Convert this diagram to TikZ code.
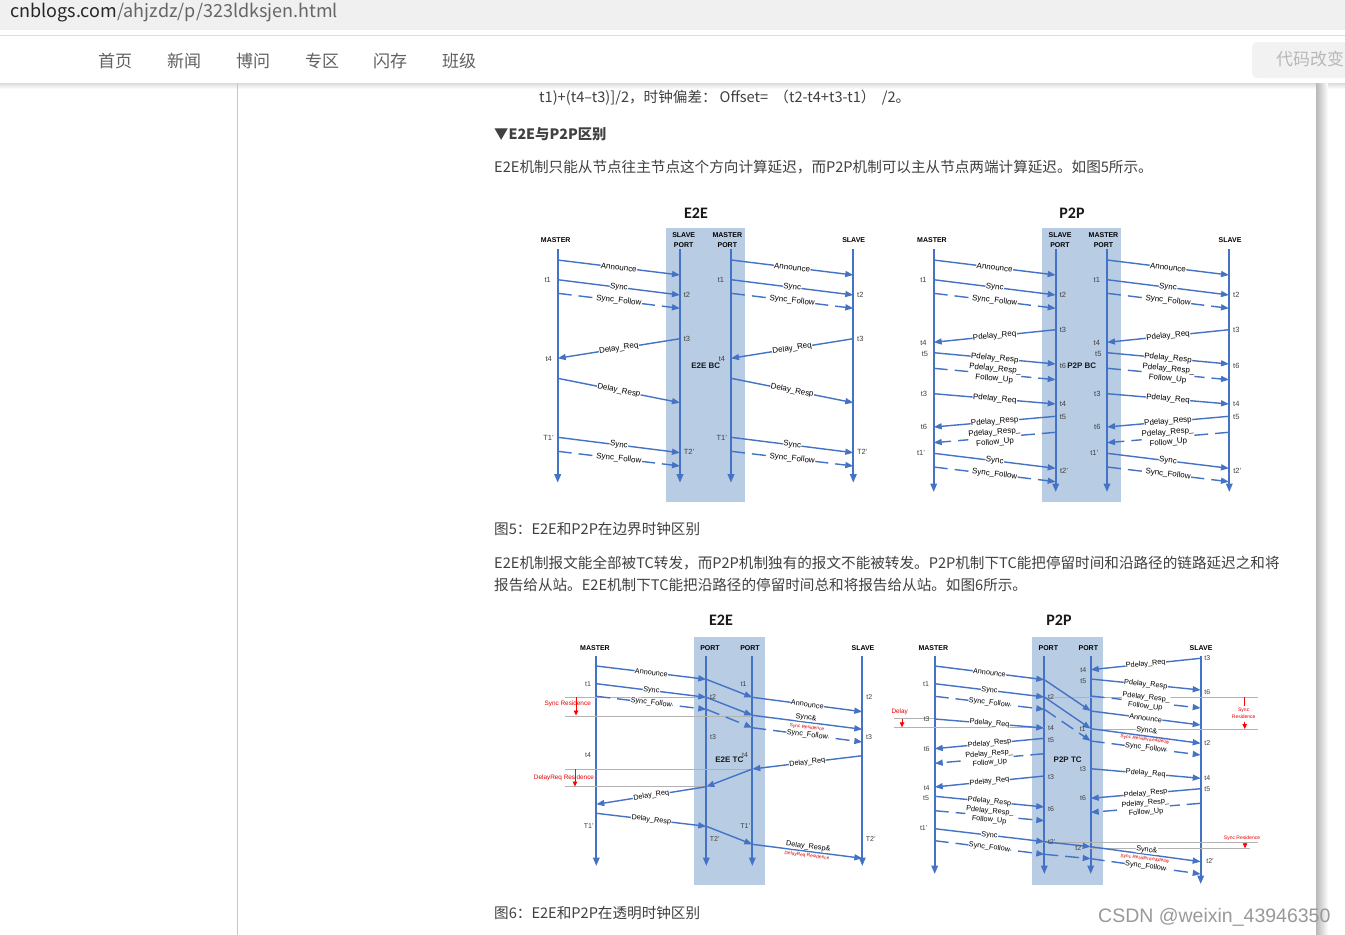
\documentclass[tikz,border=0pt]{standalone}
\usepackage{fontspec}
\setmainfont{Liberation Sans}
\newfontfamily\cjk{Noto Sans CJK SC}
\newfontfamily\titlefont{Carlito}
\usetikzlibrary{arrows.meta}
\definecolor{lineblue}{HTML}{4472C4}
\definecolor{boxblue}{HTML}{B8CCE4}
\definecolor{bodytext}{HTML}{404040}
\tikzset{
  life/.style={draw=lineblue, line width=1.8pt, -{Triangle[length=8.5pt,width=6.5pt]}},
  solidmsg/.style={draw=lineblue, line width=1.4pt, -{Triangle[length=8pt,width=6pt]}},
  dashmsg/.style={solidmsg, dash pattern=on 14pt off 7pt},
  msgtext/.style={sloped, fill=white, inner sep=0.4pt, align=center, text=black,
    font=\fontsize{8}{10}\selectfont},
  stamp/.style={text=black!75, inner sep=0pt, font=\fontsize{7.5}{9}\selectfont},
  head/.style={text=black, inner sep=0pt, align=center, font=\fontsize{7}{10}\selectfont\bfseries},
  figtitle/.style={text=black!90, inner sep=0pt, font=\fontsize{16}{18}\selectfont\titlefont\bfseries},
  boxname/.style={text=black!90, inner sep=0pt, font=\fontsize{8}{9}\selectfont\bfseries},
  redtext/.style={text=red!90!black, inner sep=0pt, align=center, font=\fontsize{6.4}{8}\selectfont},
  redtiny/.style={text=red!85!black, inner sep=0pt, rotate=-7, font=\fontsize{4.8}{5}\selectfont},
  redmark/.style={draw=red, line width=0.8pt, -{Triangle[length=5pt,width=4.5pt]}},
  refline/.style={draw=black!30, line width=0.7pt},
  pagetext/.style={anchor=west, inner sep=0pt, text=bodytext, font=\fontsize{14.6}{16}\selectfont\cjk},
}
\newcommand\msg[5][solidmsg]{\coordinate (#2) at (#4);
  \draw[#1] (#3) -- node[msgtext] (#2t) {#5} (#2);}
\newcommand\hop[4][solidmsg]{\coordinate (#2) at (#4);
  \draw[#1] (#3) -- (#2);}
\begin{document}
\begin{tikzpicture}[x=1pt,y=-1pt]
\useasboundingbox (0,0) rectangle (1345,935);
\fill[white] (0,0) rectangle (1345,935);
\fill[black!6] (0,0) rectangle (1345,30);
\draw[black!13, line width=1pt] (0,35.5) -- (1345,35.5);
\shade[top color=black!14, bottom color=white] (0,83) rectangle (1345,89);
\draw[black!22, line width=1pt] (237.5,83) -- (237.5,935);
\shade[left color=black!28, right color=white] (1316,83) rectangle (1328,935);
\fill[black!5, rounded corners=6pt] (1252,42) rectangle (1365,78);
\node[anchor=west, inner sep=0pt, font=\fontsize{18}{20}\selectfont\cjk] (urlbar) at (10,13)
  {\textcolor{black!85}{cnblogs.com}\textcolor{black!60}{/ahjzdz/p/323ldksjen.html}};
\foreach \navx/\navtext [count=\i] in {98/首页,167/新闻,236/博问,305/专区,373/闪存,442/班级}
  \node[pagetext, text=black!62, font=\fontsize{17}{19}\selectfont\cjk] (nav\i) at (\navx,61) {\navtext};
\node[pagetext, text=black!28, font=\fontsize{17}{19}\selectfont\cjk] (codebtn) at (1276,59) {代码改变};
\node[pagetext] (para0) at (539,97.5) {t1)+(t4–t3)]/2，时钟偏差：\hspace{3pt}Offset= \hspace{3pt}（t2-t4+t3-t1） \hspace{3pt}/2。};
\node[pagetext, font=\fontsize{14.3}{16}\selectfont\cjk\bfseries] (para1) at (494,134) {▼E2E与P2P区别};
\node[pagetext] (para2) at (494,167) {E2E机制只能从节点往主节点这个方向计算延迟，而P2P机制可以主从节点两端计算延迟。如图5所示。};
\node[pagetext] (cap5) at (494,529) {图5：E2E和P2P在边界时钟区别};
\node[pagetext] (para3) at (494,563) {E2E机制报文能全部被TC转发，而P2P机制独有的报文不能被转发。P2P机制下TC能把停留时间和沿路径的链路延迟之和将};
\node[pagetext] (para4) at (494,585) {报告给从站。E2E机制下TC能把沿路径的停留时间总和将报告给从站。如图6所示。};
\node[pagetext] (cap6) at (494,913) {图6：E2E和P2P在透明时钟区别};
\node[anchor=west, inner sep=0pt, text=black!40, font=\fontsize{19.5}{22}\selectfont] (mark) at (1098,917) {CSDN @weixin\_43946350};

\fill[boxblue] (665.5,228) rectangle (745,502);
\fill[boxblue] (1041.7,228) rectangle (1121,502);
\fill[boxblue] (694,637) rectangle (765.3,885);
\fill[boxblue] (1032,637) rectangle (1103.3,885);
\node[figtitle] (e2ea) at (696,213) {E2E};
\node[figtitle] (p2pa) at (1072,213) {P2P};
\node[figtitle] (e2eb) at (721,620.7) {E2E};
\node[figtitle] (p2pb) at (1059,620.7) {P2P};
\node[boxname] (e2ebc) at (705.7,366) {E2E BC};
\node[boxname] (p2pbc) at (1081.7,366) {P2P BC};
\node[boxname] (e2etc) at (729.3,760) {E2E TC};
\node[boxname] (p2ptc) at (1067.7,760) {P2P TC};

\foreach \lname/\lx/\ltop/\lbot in {
    ea/557.7/249/482.7, eb/680/249/482.7, ec/731/249/482.7, ed/853.3/249/482.7,
    pa/933.7/249/492, pb/1055.7/249/492, pc/1107/249/492, pd/1229.3/249/492,
    fa/596.3/656/866, fb/706.3/656/866, fc/752.3/656/866, fd/862.3/656/866,
    ga/934.7/656/874, gb/1044.3/656/874, gc/1090.7/656/874, gd/1200.7/656/884} {
  \coordinate (\lname top) at (\lx,\ltop);
  \coordinate (\lname bot) at (\lx,\lbot);
  \draw[life] (\lname top) -- (\lname bot);
}
\foreach \hx/\hy/\htext [count=\i] in {
    555.7/239.7/MASTER, 683.7/240/SLAVE\\PORT, 727.3/240/MASTER\\PORT, 853.7/239.7/SLAVE,
    932/239.7/MASTER, 1060/240/SLAVE\\PORT, 1103.5/240/MASTER\\PORT, 1230/239.7/SLAVE,
    595/647.7/MASTER, 710/647.7/PORT, 750/647.7/PORT, 863/647.7/SLAVE,
    933.3/647.7/MASTER, 1048.3/647.7/PORT, 1088.3/647.7/PORT, 1201/647.7/SLAVE}
  \node[head] (hd\i) at (\hx,\hy) {\htext};

\foreach \sd/\dx in {a/0,b/173.3} {
  \begin{scope}[xshift=\dx pt]
    \msg{ea\sd}{557.7,260}{680,275}{Announce}
    \msg{eb\sd}{557.7,279.7}{680,295}{Sync}
    \msg[dashmsg]{ec\sd}{557.7,293.3}{680,308.3}{Sync\_Follow}
    \msg{ed\sd}{680,338.7}{557.7,358.3}{Delay\_Req}
    \msg{ee\sd}{557.7,378.3}{680,402.7}{Delay\_Resp}
    \msg{ef\sd}{557.7,437.3}{680,452.7}{Sync}
    \msg[dashmsg]{eg\sd}{557.7,451.3}{680,466}{Sync\_Follow}
    \node[stamp] (et1\sd) at (547.7,280) {t1};
    \node[stamp] (et2\sd) at (687,295) {t2};
    \node[stamp] (et3\sd) at (687,339) {t3};
    \node[stamp] (et4\sd) at (548.7,358.5) {t4};
    \node[stamp] (et5\sd) at (548.5,438) {T1'};
    \node[stamp] (et6\sd) at (689,452) {T2'};
  \end{scope}
  \begin{scope}[xshift=\dx pt]
    \msg{pa\sd}{933.7,260}{1055.7,275}{Announce}
    \msg{pb\sd}{933.7,279.7}{1055.7,295}{Sync}
    \msg[dashmsg]{pc\sd}{933.7,293.3}{1055.7,308.3}{Sync\_Follow}
    \msg{pd\sd}{1055.7,329.7}{933.7,342.3}{Pdelay\_Req}
    \msg{pe\sd}{933.7,352.7}{1055.7,364}{Pdelay\_Resp}
    \msg[dashmsg]{pf\sd}{933.7,368.3}{1055.7,379.7}{Pdelay\_Resp\_\\Follow\_Up}
    \msg{pg\sd}{933.7,393.7}{1055.7,404}{Pdelay\_Req}
    \msg{ph\sd}{1055.7,416.3}{933.7,427}{Pdelay\_Resp}
    \msg[dashmsg]{pi\sd}{1055.7,432.3}{933.7,442.7}{Pdelay\_Resp\_\\Follow\_Up}
    \msg{pj\sd}{933.7,453.3}{1055.7,468.3}{Sync}
    \msg[dashmsg]{pk\sd}{933.7,467}{1055.7,481.7}{Sync\_Follow}
    \foreach \tx/\ty/\ttext [count=\i] in {
        923.5/280/t1, 1063/295/t2, 1063/330/t3, 923.5/343/t4, 925/354/t5, 1063/366/t6,
        924/394/t3, 1063/404/t4, 1063/417/t5, 924/427/t6, 921/453/t1', 1064/471/t2'}
      \node[stamp] (pt\i\sd) at (\tx,\ty) {\ttext};
  \end{scope}
}

\foreach \rx/\ry/\rz [count=\i] in {
    565/697.3/706, 565/716.3/752, 565/769.3/752, 565/786.7/706,
    894/718.7/934, 894/727.3/1044, 1044/697.3/1258, 1090/729/1258,
    1044/842.7/1258, 1090/848.3/1250} {
  \coordinate (rs\i) at (\rx,\ry);
  \coordinate (re\i) at (\rz,\ry);
  \draw[refline] (rs\i) -- (re\i);
}

\begin{scope}[msgtext/.append style={font=\fontsize{7.3}{9}\selectfont}]
  \msg{fa1}{596.3,666}{706.3,679.3}{Announce}
  \hop{fa2}{fa1}{752.3,697.3}
  \msg{fa3}{fa2}{862.3,711.7}{Announce}
  \msg{fb1}{596.3,683.7}{706.3,697.3}{Sync}
  \hop{fb2}{fb1}{752.3,715.3}
  \hop{fb3}{fb2}{862.3,729.3}
  \node[msgtext, rotate=-7, sloped=false] (fbt) at (806,717.7) {Sync\&};
  \msg[dashmsg]{fc1}{596.3,696.3}{706.3,709.3}{Sync\_Follow}
  \hop[dashmsg]{fc2}{fc1}{752.3,727.7}
  \msg[dashmsg]{fc3}{fc2}{862.3,742}{Sync\_Follow}
  \msg{fd1}{862.3,755.7}{752.3,769}{Delay\_Req}
  \hop{fd2}{fd1}{706.3,786.7}
  \msg{fd3}{fd2}{596.3,804.3}{Delay\_Req}
  \msg{fe1}{596.3,813.3}{706.3,826.3}{Delay\_Resp}
  \hop{fe2}{fe1}{752.3,844.3}
  \hop{fe3}{fe2}{862.3,858.3}
  \node[msgtext, rotate=-7, sloped=false] (fet) at (808.3,846.7) {Delay\_Resp\&};

  \msg{ga1}{934.7,666}{1044.3,679.7}{Announce}
  \hop{ga2}{ga1}{1090.7,711}
  \msg{ga3}{ga2}{1200.7,725}{Announce}
  \msg{gb1}{934.7,683.7}{1044.3,697}{Sync}
  \hop{gb2}{gb1}{1090.7,728.7}
  \hop{gb3}{gb2}{1200.7,743.3}
  \node[msgtext, rotate=-7, sloped=false] (gbt) at (1146.7,730.7) {Sync\&};
  \msg[dashmsg]{gc1}{934.7,696.3}{1044.3,709.3}{Sync\_Follow}
  \hop[dashmsg]{gc2}{gc1}{1090.7,741}
  \msg[dashmsg]{gc3}{gc2}{1200.7,755}{Sync\_Follow}
  \msg{gd}{1200.7,658.3}{1090.7,669.7}{Pdelay\_Req}
  \msg{ge}{1090.7,679}{1200.7,690}{Pdelay\_Resp}
  \msg[dashmsg]{gf}{1090.7,696}{1200.7,708}{Pdelay\_Resp\_\\Follow\_Up}
  \msg{gg}{934.7,719}{1044.3,728}{Pdelay\_Req}
  \msg{gh}{1044.3,738.3}{934.7,748.7}{Pdelay\_Resp}
  \msg[dashmsg]{gi}{1044.3,753.7}{934.7,763.3}{Pdelay\_Resp\_\\Follow\_Up}
  \msg{gj}{1044.3,776}{934.7,787}{Pdelay\_Req}
  \msg{gk}{934.7,796.3}{1044.3,807}{Pdelay\_Resp}
  \msg[dashmsg]{gl}{934.7,810.7}{1044.3,820.7}{Pdelay\_Resp\_\\Follow\_Up}
  \msg{gm1}{934.7,828.7}{1044.3,841.7}{Sync}
  \hop{gm2}{gm1}{1090.7,846.7}
  \hop{gm3}{gm2}{1200.7,861.7}
  \node[msgtext, rotate=-7, sloped=false] (gmt) at (1146.7,850) {Sync\&};
  \msg[dashmsg]{gn1}{934.7,840.7}{1044.3,854.3}{Sync\_Follow}
  \hop[dashmsg]{gn2}{gn1}{1090.7,858.7}
  \msg[dashmsg]{gn3}{gn2}{1200.7,874}{Sync\_Follow}
  \msg{go}{1090.7,768.7}{1200.7,778.3}{Pdelay\_Req}
  \msg{gp}{1200.7,788.7}{1090.7,798.3}{Pdelay\_Resp}
  \msg[dashmsg]{gq}{1200.7,803.3}{1090.7,812.3}{Pdelay\_Resp\_\\Follow\_Up}
\end{scope}

\foreach \tx/\ty/\ttext [count=\i] in {
    588/684/t1, 743.7/684/t1, 713/697/t2, 869.3/697/t2, 713/737/t3, 869/737/t3,
    588/755/t4, 745/755/t4, 588.7/826/T1', 745.3/826/T1', 714.7/839/T2', 870.7/839/T2',
    926/684/t1, 926.7/719.3/t3, 926.7/748.7/t6, 926.7/787.7/t4, 926/798.3/t5, 923.7/828.3/t1',
    1051/697/t2, 1051/728/t4, 1051/740/t5, 1051/777/t3, 1051/809.3/t6, 1051.7/842.3/t2',
    1083.3/670/t4, 1083.3/681/t5, 1082.7/729.3/t1, 1083/768.7/t3, 1083/798.3/t6, 1078.3/847.7/t2,
    1207.3/658.3/t3, 1207.3/691.7/t6, 1207.3/743.3/t2, 1207.3/778.3/t4, 1207.3/789.3/t5, 1210/861/t2'}
  \node[stamp, font=\fontsize{7}{8}\selectfont] (ft\i) at (\tx,\ty) {\ttext};

\node[redtext] (rsync) at (567.7,704) {Sync Residence};
\node[redtext] (rdelay) at (564,778.3) {DelayReq Residence};
\node[redtext] (rdly) at (899.7,712) {Delay};
\node[redtext, font=\fontsize{5}{6.6}\selectfont] (rsr) at (1243.7,713.5) {Sync\\Residence};
\node[redtext, font=\fontsize{5}{6}\selectfont] (rsb) at (1242,838) {Sync Residence};
\node[redtiny] (tsync) at (807,727.5) {Sync Residence};
\node[redtiny] (tdelay) at (807,855.7) {DelayReq Residence};
\node[redtiny] (tsda) at (1145,739.5) {Sync Residence\&delay};
\node[redtiny] (tsdb) at (1145,858.8) {Sync Residence\&delay};
\foreach \ax/\ay/\az [count=\i] in {576/697.3/715.5, 575/769.3/786.5, 902/718.7/727.3, 1244.7/721.7/729, 1245/842.7/848.3} {
  \coordinate (ra\i) at (\ax,\ay);
  \coordinate (rb\i) at (\ax,\az);
  \draw[redmark] (ra\i) -- (rb\i);
}
\coordinate (rc1) at (1244.7,697.3);
\coordinate (rc2) at (1244.7,706);
\draw[draw=red, line width=0.8pt] (rc1) -- (rc2);
\end{tikzpicture}
\end{document}
